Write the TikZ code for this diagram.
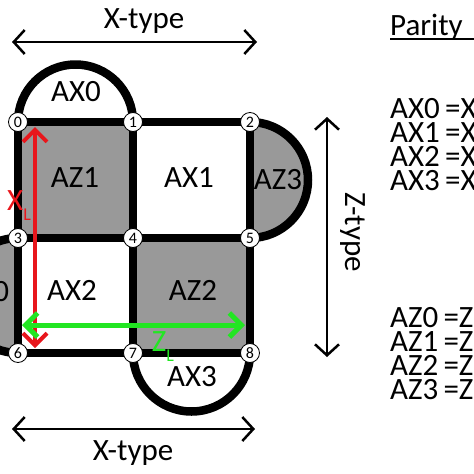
\documentclass[tikz,border=0pt]{standalone}
\usepackage{fontspec}
\setmainfont{Carlito}
\usetikzlibrary{arrows.meta}
\definecolor{plaqgray}{RGB}{153,153,153}
\definecolor{logred}{RGB}{232,22,28}
\definecolor{loggreen}{RGB}{34,230,34}
\pgfdeclarelayer{background}
\pgfsetlayers{background,main}

\begin{document}
\begin{tikzpicture}[x=1pt, y=1pt,
		qubit/.style = {draw, circle, fill=white, line width=0.8pt, inner sep=0pt, minimum size=19pt, font=\fontsize{16}{16}\selectfont},
		bond/.style = {line width=8.5pt},
		lbl/.style = {inner sep=0pt, font=\fontsize{31}{31}\selectfont},
		eqn/.style = {inner sep=0pt, anchor=base west, font=\fontsize{31}{31}\selectfont},
		typearrow/.style = {line width=2.5pt, {Straight Barb[length=11pt,width=24pt]}-{Straight Barb[length=11pt,width=24pt]}},
		logarrow/.style = {{Straight Barb[length=12pt,width=24pt]}-{Straight Barb[length=12pt,width=24pt]}}]

	\useasboundingbox (0,0) rectangle (474,-474);
	\clip (0,0) rectangle (474,-474);

	% data qubits
	\node[qubit] (q0) at (18,-122) {0};
	\node[qubit] (q1) at (133,-122) {1};
	\node[qubit] (q2) at (250,-122) {2};
	\node[qubit] (q3) at (18,-238) {3};
	\node[qubit] (q4) at (133,-238) {4};
	\node[qubit] (q5) at (250,-238) {5};
	\node[qubit] (q6) at (18,-353) {6};
	\node[qubit] (q7) at (133,-353) {7};
	\node[qubit] (q8) at (250,-353) {8};

	\begin{pgfonlayer}{background}
		% Z plaquettes
		\fill[plaqgray] (q0.center) rectangle (q4.center);
		\fill[plaqgray] (q4.center) rectangle (q8.center);
		\fill[plaqgray] (q2.center) arc (90:-90:58) -- cycle;
		\fill[plaqgray] (q3.center) arc (90:270:57.5) -- cycle;
		% lattice
		\draw[bond] (q0.center) -- (q1.center) -- (q2.center);
		\draw[bond] (q3.center) -- (q4.center) -- (q5.center);
		\draw[bond] (q6.center) -- (q7.center) -- (q8.center);
		\draw[bond] (q0.center) -- (q3.center) -- (q6.center);
		\draw[bond] (q1.center) -- (q4.center) -- (q7.center);
		\draw[bond] (q2.center) -- (q5.center) -- (q8.center);
		\draw[bond] (q0.center) arc (180:0:57.5);
		\draw[bond] (q2.center) arc (90:-90:58);
		\draw[bond] (q7.center) arc (180:360:58.5);
		\draw[bond] (q3.center) arc (90:270:57.5);
	\end{pgfonlayer}

	% stabiliser labels
	\node[lbl] (pAX0) at (76,-92) {AX0};
	\node[lbl] (pAZ1) at (75,-178) {AZ1};
	\node[lbl] (pAX1) at (189,-178) {AX1};
	\node[lbl] (pAZ3) at (278,-180) {AZ3};
	\node[lbl] (pAZ0) at (-15,-292) {AZ0};
	\node[lbl] (pAX2) at (72,-290) {AX2};
	\node[lbl] (pAZ2) at (193,-290) {AZ2};
	\node[lbl] (pAX3) at (192,-377) {AX3};

	% X-type and Z-type directions
	\coordinate (xtopL) at (12,-42);
	\coordinate (xtopR) at (257,-42);
	\coordinate (xbotL) at (12,-429);
	\coordinate (xbotR) at (255,-429);
	\coordinate (ztypT) at (327,-117);
	\coordinate (ztypB) at (327,-357);
	\draw[typearrow] (xtopL) -- (xtopR);
	\draw[typearrow] (xbotL) -- (xbotR);
	\draw[typearrow] (ztypT) -- (ztypB);
	\node[lbl, anchor=base] (xtop) at (144,-28) {X-type};
	\node[lbl, anchor=base] (xbot) at (133,-460) {X-type};
	\node[lbl, anchor=base, rotate=-90] (ztyp) at (345,-232) {Z-type};

	% logical operators
	\coordinate (xlT) at (35,-127);
	\coordinate (xlB) at (35,-348);
	\coordinate (zlL) at (22,-325);
	\coordinate (zlR) at (245,-325);
	\draw[logarrow, logred, line width=4pt] (xlT) -- (xlB);
	\draw[logarrow, loggreen, line width=5pt] (zlL) -- (zlR);
	\node[lbl, anchor=base, text=logred] (xl) at (19,-210) {X\raisebox{-0.35em}{\fontsize{18}{18}\selectfont L}};
	\node[lbl, anchor=base, text=loggreen] (zl) at (163,-351) {Z\raisebox{-0.35em}{\fontsize{18}{18}\selectfont L}};

	% parity checks
	\node[lbl, anchor=base west] (parity) at (390,-35) {Parity};
	\draw[line width=1.2pt] ([yshift=-4pt]parity.base west) -- ++(100,0);
	\foreach \k/\y in {0/118, 1/142, 2/166, 3/190}
		\node[eqn] (eqAX\k) at (390,-\y) {AX\k\,=X};
	\foreach \k/\y in {0/327, 1/351, 2/375, 3/399}
		\node[eqn] (eqAZ\k) at (390,-\y) {AZ\k\,=Z};
\end{tikzpicture}
\end{document}
